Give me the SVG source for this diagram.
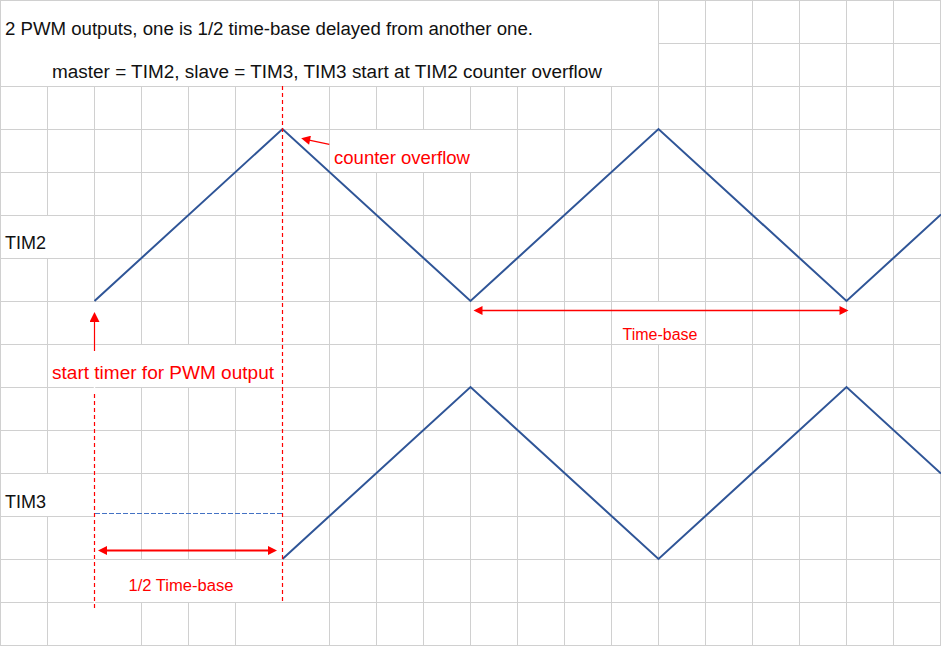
<svg xmlns="http://www.w3.org/2000/svg" width="941" height="646" viewBox="0 0 941 646">
<style>
.grid{stroke:#d0d0d0;stroke-width:1;fill:none}
.mask{fill:#ffffff;stroke:none}
.wl{stroke:#ffffff;stroke-width:1.4;fill:none}
.wave{stroke:#2f5597;stroke-width:2;fill:none;stroke-linejoin:miter}
.guide{stroke:#ff0000;stroke-width:1.2;stroke-dasharray:4 3;fill:none}
.bguide{stroke:#4472c4;stroke-width:1.2;stroke-dasharray:5 2;fill:none}
.arr{stroke:#ff0000;fill:none}
.t{font-family:"Liberation Sans",Arial,sans-serif;fill:#111111}
.r{font-family:"Liberation Sans",Arial,sans-serif;fill:#ff0000}
</style>
<defs>
<marker id="ah" viewBox="0 0 10 10" refX="5" refY="5" markerUnits="userSpaceOnUse" markerWidth="10" markerHeight="9" orient="auto-start-reverse">
<path d="M0,0 L10,5 L0,10 z" fill="#ff0000"/>
</marker>
<marker id="ah2" viewBox="0 0 10 10" refX="5" refY="5" markerUnits="userSpaceOnUse" markerWidth="10" markerHeight="10" orient="auto-start-reverse">
<path d="M0,0 L10,5 L0,10 z" fill="#ff0000"/>
</marker>
</defs>
<rect x="0" y="0" width="941" height="646" fill="#ffffff"/>
<g id="grid">
<path class="grid" d="M0.5,0V646 M47.5,0V646 M94.5,0V646 M141.5,0V646 M188.5,0V646 M235.5,0V646 M329.5,0V646 M376.5,0V646 M423.5,0V646 M470.5,0V646 M517.5,0V646 M564.5,0V646 M611.5,0V646 M658.5,0V646 M705.5,0V646 M752.5,0V646 M799.5,0V646 M846.5,0V646 M893.5,0V646 M940.5,0V646"/>
<path class="grid" d="M0,0.5H941 M0,43.5H941 M0,86.5H941 M0,129.5H941 M0,172.5H941 M0,215.5H941 M0,258.5H941 M0,301.5H941 M0,344.5H941 M0,387.5H941 M0,430.5H941 M0,473.5H941 M0,516.5H95 M282,516.5H941 M0,559.5H941 M0,602.5H941 M0,645.5H941"/>
<path class="grid" d="M282.5,0V86"/>
<rect class="mask" x="1" y="1" width="657" height="85"/>
<rect class="mask" x="1" y="216" width="93" height="42"/>
<rect class="mask" x="1" y="474" width="93" height="42"/>
<rect class="mask" x="48" y="345" width="234" height="42"/>
<rect class="mask" x="95" y="560" width="187" height="42"/>
<rect class="mask" x="330" y="130" width="187" height="42"/>
<rect class="mask" x="612" y="302" width="93" height="42"/>
<path class="wl" d="M94.5,302V645"/>
</g>
<g id="titles">
<text class="t" x="5" y="35" font-size="18" textLength="528" lengthAdjust="spacingAndGlyphs">2 PWM outputs, one is 1/2 time-base delayed from another one.</text>
<text class="t" x="52" y="77.5" font-size="18" textLength="550" lengthAdjust="spacingAndGlyphs">master = TIM2, slave = TIM3, TIM3 start at TIM2 counter overflow</text>
</g>
<g id="tim2-label"><text class="t" x="5" y="249" font-size="17.5" textLength="41" lengthAdjust="spacingAndGlyphs">TIM2</text></g>
<g id="tim3-label"><text class="t" x="5" y="508" font-size="17.5" textLength="41" lengthAdjust="spacingAndGlyphs">TIM3</text></g>
<g id="tim2-wave"><polyline class="wave" points="94.5,301 282.5,129 470.5,301 658.5,129 846.5,301 941,214.5"/></g>
<g id="tim3-wave"><polyline class="wave" points="282.5,559 470.5,387 658.5,559 846.5,387 941,473.5"/></g>
<g id="guides">
<path class="guide" d="M282.5,86V602"/>
<path class="guide" d="M94.5,394V610"/>
<path class="bguide" d="M95,513.5H282"/>
</g>
<g id="connectors">
<path class="arr" stroke-width="1.2" d="M94.5,351V317" marker-end="url(#ah2)"/>
<path class="arr" stroke-width="1.2" d="M329.3,144.3L305.6,139.3" marker-end="url(#ah)"/>
<path class="arr" stroke-width="1.5" d="M478,310.5H844" marker-start="url(#ah)" marker-end="url(#ah)"/>
<path class="arr" stroke-width="2" d="M102.5,550.5H272.5" marker-start="url(#ah)" marker-end="url(#ah)"/>
</g>
<g id="annotations">
<text class="r" x="52" y="379" font-size="17.5" textLength="222" lengthAdjust="spacingAndGlyphs">start timer for PWM output</text>
<text class="r" x="334" y="164" font-size="17.5" textLength="136" lengthAdjust="spacingAndGlyphs">counter overflow</text>
<text class="r" x="622.5" y="340" font-size="16" textLength="75" lengthAdjust="spacingAndGlyphs">Time-base</text>
<text class="r" x="128.5" y="591" font-size="16" textLength="105" lengthAdjust="spacingAndGlyphs">1/2 Time-base</text>
</g>
</svg>
